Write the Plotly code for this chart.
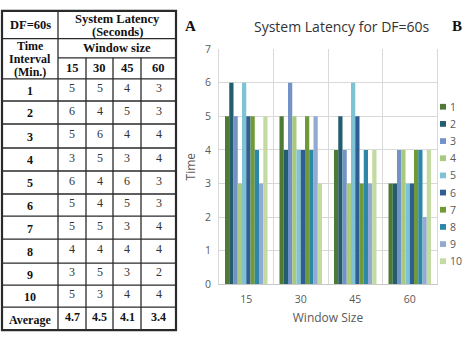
import plotly.graph_objects as go

# Window sizes (seconds) and time intervals (minutes)
window_sizes = ["15", "30", "45", "60"]
intervals = ["1", "2", "3", "4", "5", "6", "7", "8", "9", "10"]

# System latency (seconds) per time interval, one value per window size
latency = [
    [5, 5, 4, 3],
    [6, 4, 5, 3],
    [5, 6, 4, 4],
    [3, 5, 3, 4],
    [6, 4, 6, 3],
    [5, 4, 5, 3],
    [5, 5, 3, 4],
    [4, 4, 4, 4],
    [3, 5, 3, 2],
    [5, 3, 4, 4],
]
averages = ["4.7", "4.5", "4.1", "3.4"]

colors = ["#4f7a35", "#245d6e", "#7393c6", "#a9c97f", "#7ec3d4",
          "#2f5e95", "#6f9a37", "#2c88a6", "#93abd3", "#c3dba0"]

W, H = 474, 342


def px(x):
    return x / W


def py(y):
    return 1 - y / H


fig = go.Figure()

for name, vals, col in zip(intervals, latency, colors):
    fig.add_trace(go.Bar(x=window_sizes, y=vals, name=name,
                         marker=dict(color=col, line=dict(width=0)),
                         showlegend=False))

shapes = []
annotations = []

# ---------- table (panel A) ----------
col_edges = [2, 58, 86, 113, 141, 176]
row_edges = [75, 98, 122, 147, 171, 195, 218, 242, 267, 290, 313, 337]
top = 4
line_col = "#2a2a2a"


def hline(x0, x1, y, w=1.3):
    shapes.append(dict(type="line", xref="paper", yref="paper",
                       x0=px(x0), x1=px(x1), y0=py(y), y1=py(y),
                       line=dict(color=line_col, width=w)))


def vline(x, y0, y1, w=1.3):
    shapes.append(dict(type="line", xref="paper", yref="paper",
                       x0=px(x), x1=px(x), y0=py(y0), y1=py(y1),
                       line=dict(color=line_col, width=w)))


serif = "Liberation Serif"


def text(x, y, s, size=12, bold=False, color="#111111", family=serif,
         xanchor="center"):
    if bold:
        s = "<b>" + s + "</b>"
    annotations.append(dict(x=px(x), y=py(y), xref="paper", yref="paper",
                            text=s, showarrow=False, xanchor=xanchor,
                            yanchor="middle",
                            font=dict(family=family, size=size, color=color)))


# horizontal rules
hline(col_edges[0], col_edges[-1], 33)
hline(col_edges[1], col_edges[-1], 53)
for y in row_edges[:-1]:
    hline(col_edges[0], col_edges[-1], y)
# vertical rules
vline(col_edges[1], top, row_edges[-1])
for x in col_edges[2:-1]:
    vline(x, 53, row_edges[-1])
# outer border
shapes.append(dict(type="rect", xref="paper", yref="paper",
                   x0=px(col_edges[0]), x1=px(col_edges[-1]),
                   y0=py(top), y1=py(row_edges[-1]),
                   line=dict(color=line_col, width=2.2)))

# header texts
text(30, 19, "DF=60s", 12.5, True)
text(117, 12, "System Latency", 12.5, True)
text(117, 26, "(Seconds)", 12.5, True)
text(30, 41, "Time", 12, True)
text(30, 54.5, "Interval", 12, True)
text(30, 68, "(Min.)", 12, True)
text(117, 43, "Window size", 12.5, True)
col_centers = [(a + b) / 2 for a, b in zip(col_edges[1:-1], col_edges[2:])]
for cx, ws in zip(col_centers, window_sizes):
    text(cx, 64, ws, 12.5, True)

# body
for r, (name, vals) in enumerate(zip(intervals, latency)):
    cy = (row_edges[r] + row_edges[r + 1]) / 2
    text(30, cy + 1, name, 12, True)
    for cx, v in zip(col_centers, vals):
        text(cx, cy - 2, str(v), 12, False, "#333333")
cy = (row_edges[-2] + row_edges[-1]) / 2
text(30, cy + 1, "Average", 12, True)
for cx, a in zip(col_centers, averages):
    text(cx, cy - 2, a, 12, True)

# panel letters
text(190, 20, "A", 15, True, "#111111")
text(457, 20, "B", 15, True, "#111111")

# ---------- chart (panel B) ----------
sans = "Open Sans"
text(342, 20, "System Latency for DF=60s", 14, False, "#333333", sans)

# legend
for i, (name, col) in enumerate(zip(intervals, colors)):
    cy = 104 + i * 17.9
    shapes.append(dict(type="rect", xref="paper", yref="paper",
                       x0=px(440), x1=px(446), y0=py(cy - 3), y1=py(cy + 3),
                       fillcolor=col, line=dict(width=0)))
    text(448, cy, name, 10.5, False, "#595959", sans, "left")

fig.update_layout(
    width=W, height=H,
    margin=dict(l=0, r=0, t=0, b=0),
    paper_bgcolor="white", plot_bgcolor="white",
    barmode="group", bargap=0.22, bargroupgap=0,
    font=dict(family=sans, color="#595959"),
    shapes=shapes, annotations=annotations,
    xaxis=dict(domain=[px(219), px(437)], type="category",
               tickson="boundaries", showgrid=True, gridcolor="#d9d9d9",
               ticks="", tickfont=dict(size=10.5, color="#595959"),
               ticklabelstandoff=5,
               showline=True, linecolor="#c8c8c8",
               title=dict(text="Window Size", standoff=8,
                          font=dict(size=12, color="#595959"))),
    yaxis=dict(domain=[py(289), py(44)], range=[0, 7], dtick=1,
               showgrid=True, gridcolor="#d9d9d9", zeroline=False,
               showline=True, linecolor="#d9d9d9", mirror=True,
               ticks="", tickfont=dict(size=10.5, color="#595959"),
               ticklabelstandoff=5,
               title=dict(text="Time", standoff=6,
                          font=dict(size=12, color="#595959"))),
)

fig.write_html("out.html")
